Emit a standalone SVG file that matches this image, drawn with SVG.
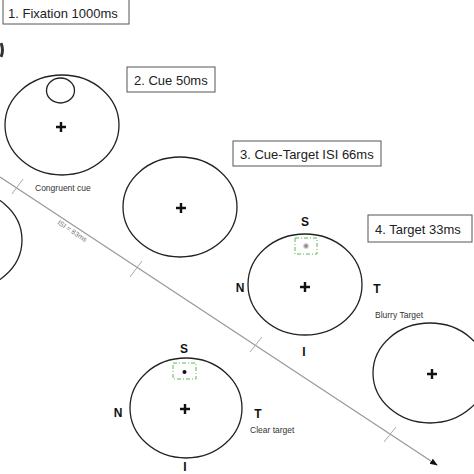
<svg xmlns="http://www.w3.org/2000/svg" width="474" height="474" viewBox="0 0 474 474">
<defs>
<style>
.box{fill:#fff;stroke:#555;stroke-width:1}
.bt{font-family:"Liberation Sans",Arial,sans-serif;font-size:13px;fill:#222}
.fr{fill:none;stroke:#222;stroke-width:1.3}
.fx{stroke:#111;stroke-width:2.4;fill:none}
.lb{font-family:"Liberation Sans",Arial,sans-serif;font-size:12px;font-weight:bold;fill:#111;text-anchor:middle}
.sm{font-family:"Liberation Sans",Arial,sans-serif;font-size:8.5px;fill:#333}
.gb{fill:none;stroke:#5cb85c;stroke-width:1;stroke-dasharray:4 2 1 2}
.tk{stroke:#aaa;stroke-width:1}
</style>
<marker id="ah" markerWidth="8" markerHeight="8" refX="7" refY="4" orient="auto" markerUnits="userSpaceOnUse">
<path d="M0,1 L8,4 L0,7 Z" fill="#111"/>
</marker>
<radialGradient id="blur">
<stop offset="0" stop-color="#666"/>
<stop offset="1" stop-color="#666" stop-opacity="0"/>
</radialGradient>
</defs>

<g id="connectors">
<line x1="0" y1="177" x2="437" y2="465" stroke="#999" stroke-width="1.2" marker-end="url(#ah)"/>
<line class="tk" x1="12" y1="194" x2="23" y2="179"/>
<line class="tk" x1="130" y1="277" x2="142" y2="261"/>
<line class="tk" x1="250" y1="352" x2="262" y2="337"/>
<line class="tk" x1="384" y1="442" x2="396" y2="427"/>
<text x="71" y="233" transform="rotate(33.4 71 233)" text-anchor="middle" font-family="Liberation Sans,Arial,sans-serif" font-size="7" fill="#777">ISI = 83ms</text>
</g>

<g id="fixation">
<path d="M1,43 Q4,50 1,57" fill="none" stroke="#333" stroke-width="3"/>
<rect class="box" x="3" y="-2" width="126" height="26"/>
<text class="bt" x="8" y="18">1. Fixation 1000ms</text>
</g>

<g id="cue">
<ellipse class="fr" cx="62" cy="125" rx="57" ry="50"/>
<ellipse class="fr" cx="60.5" cy="90.5" rx="14" ry="12.5"/>
<path class="fx" d="M56,127 H66 M61,122 V132"/>
<text class="sm" x="35" y="191">Congruent cue</text>
<rect class="box" x="127" y="67" width="88" height="25"/>
<text class="bt" x="134" y="85">2. Cue 50ms</text>
</g>

<g id="left-frame">
<ellipse class="fr" cx="-35" cy="240" rx="57" ry="50"/>
</g>

<g id="isi">
<ellipse class="fr" cx="180" cy="207" rx="57" ry="50"/>
<path class="fx" d="M176,208 H186 M181,203 V213"/>
<rect class="box" x="233" y="141" width="148" height="25"/>
<text class="bt" x="240" y="159">3. Cue-Target ISI 66ms</text>
</g>

<g id="target-blurry">
<ellipse class="fr" cx="305" cy="284.5" rx="57" ry="50.5"/>
<path class="fx" d="M300,287 H310 M305,282 V292"/>
<rect class="gb" x="295" y="238" width="22" height="16"/>
<circle cx="306" cy="246" r="3.5" fill="url(#blur)"/>
<text class="lb" x="305" y="226">S</text>
<text class="lb" x="240" y="292">N</text>
<text class="lb" x="377" y="293">T</text>
<text class="lb" x="304" y="356">I</text>
<text class="sm" x="375" y="318">Blurry Target</text>
<rect class="box" x="368" y="215" width="104" height="27"/>
<text class="bt" x="375" y="234">4. Target 33ms</text>
</g>

<g id="frame-right">
<ellipse class="fr" cx="430" cy="373" rx="57" ry="50"/>
<path class="fx" d="M427,374 H437 M432,369 V379"/>
</g>

<g id="target-clear">
<ellipse class="fr" cx="186" cy="408" rx="56" ry="50"/>
<path class="fx" d="M180,409 H190 M185,404 V414"/>
<rect class="gb" x="173" y="363" width="23" height="16"/>
<circle cx="184.5" cy="372" r="2" fill="#111"/>
<text class="lb" x="184" y="353">S</text>
<text class="lb" x="118" y="417">N</text>
<text class="lb" x="258" y="418">T</text>
<text class="lb" x="185" y="471">I</text>
<text class="sm" x="250" y="433">Clear target</text>
</g>
</svg>
